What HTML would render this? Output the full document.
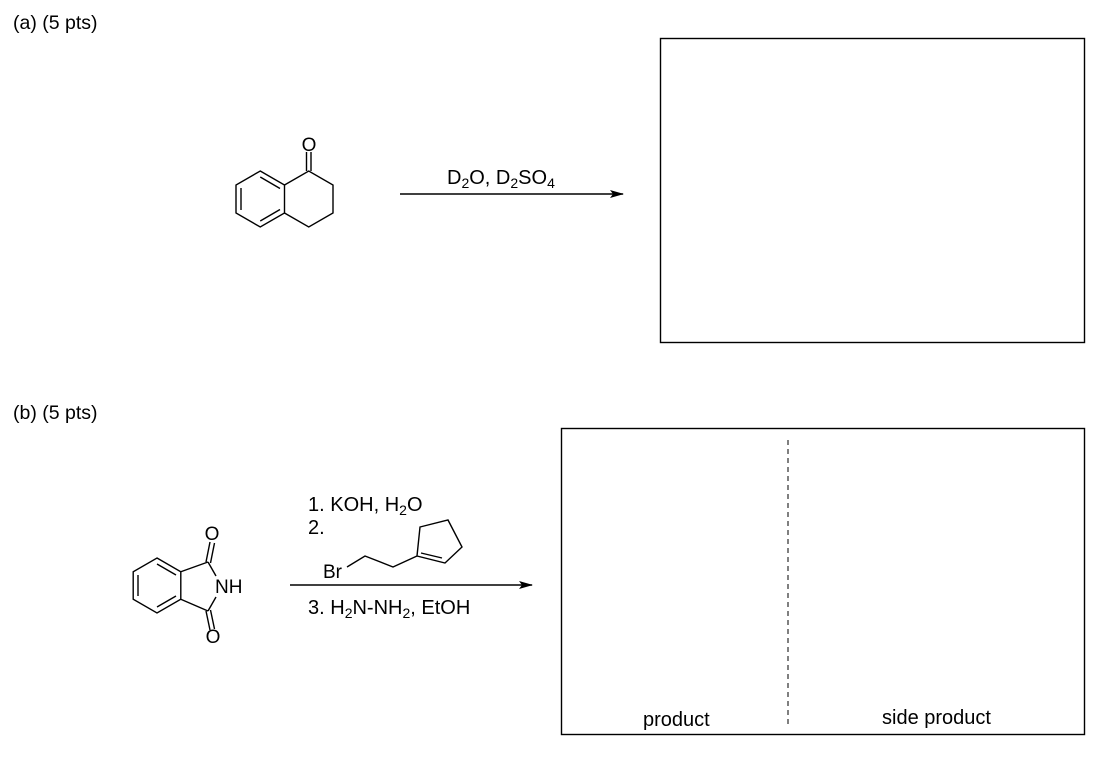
<!DOCTYPE html>
<html><head><meta charset="utf-8"><style>
html,body{margin:0;padding:0;background:#fff;}
svg{display:block;font-family:"Liberation Sans",Arial,sans-serif;}
</style></head><body>
<svg width="1118" height="774" viewBox="0 0 1118 774" xmlns="http://www.w3.org/2000/svg">
<defs><marker id="ah" markerWidth="14" markerHeight="8" refX="13" refY="4" orient="auto" markerUnits="userSpaceOnUse"><path d="M0,0 L14,4 L0,8 L3,4 Z" fill="#000"/></marker></defs>
<text x="13" y="29" font-size="19.5">(a) (5 pts)</text>
<text x="13" y="419" font-size="19.5">(b) (5 pts)</text>
<g stroke="#000" stroke-width="1.4" fill="none">
<!-- tetralone -->
<polygon points="260.25,171 284.5,185 284.5,213 260.25,227 236,213 236,185"/>
<line x1="260.25" y1="177" x2="280" y2="188.5"/>
<line x1="280" y1="209.5" x2="260.25" y2="221"/>
<line x1="241" y1="188" x2="241" y2="210"/>
<polyline points="284.5,185 308.75,171 333,185 333,213 308.75,227 284.5,213"/>
<line x1="306.5" y1="171" x2="306.5" y2="152"/>
<line x1="311" y1="171" x2="311" y2="152"/>
<!-- arrow a -->
<line x1="400" y1="194" x2="623" y2="194" marker-end="url(#ah)"/>
<rect x="660.5" y="38.5" width="424" height="304"/>
<!-- phthalimide -->
<polygon points="157,558 180.8,571.75 180.8,599.25 157,613 133.2,599.25 133.2,571.75"/>
<line x1="157" y1="564" x2="176" y2="575"/>
<line x1="176" y1="596" x2="157" y2="607"/>
<line x1="138" y1="575" x2="138" y2="596"/>
<line x1="180.8" y1="571.75" x2="208" y2="562"/>
<line x1="180.8" y1="599.25" x2="208" y2="611"/>
<line x1="208" y1="562" x2="216" y2="576"/>
<line x1="208" y1="611" x2="216" y2="597"/>
<line x1="206" y1="562" x2="210" y2="542"/>
<line x1="210.5" y1="563" x2="214.5" y2="543"/>
<line x1="206" y1="611" x2="210" y2="630"/>
<line x1="210.5" y1="610" x2="214.5" y2="629"/>
<!-- arrow b -->
<line x1="290" y1="585" x2="532" y2="585" marker-end="url(#ah)"/>
<!-- bromide -->
<polyline points="347,567 365,556 393,567 417,556"/>
<polygon points="417,556 420,527 448,520 462,547 445,563"/>
<line x1="421" y1="553" x2="442" y2="558"/>
<rect x="561.5" y="428.5" width="523" height="306"/>
<line x1="788" y1="440" x2="788" y2="726" stroke-dasharray="5,4" stroke-width="1"/>
</g>
<text x="309" y="151" font-size="19" text-anchor="middle">O</text>
<text x="212" y="540" font-size="19" text-anchor="middle">O</text>
<text x="213" y="643" font-size="19" text-anchor="middle">O</text>
<text x="215" y="593" font-size="19">NH</text>
<text x="447" y="184" font-size="20">D<tspan font-size="14" dy="4">2</tspan><tspan dy="-4">O, D</tspan><tspan font-size="14" dy="4">2</tspan><tspan dy="-4">SO</tspan><tspan font-size="14" dy="4">4</tspan></text>
<text x="308" y="511" font-size="20">1. KOH, H<tspan font-size="14" dy="4">2</tspan><tspan dy="-4">O</tspan></text>
<text x="308" y="534" font-size="20">2.</text>
<text x="323" y="578" font-size="19">Br</text>
<text x="308" y="614" font-size="20">3. H<tspan font-size="14" dy="4">2</tspan><tspan dy="-4">N-NH</tspan><tspan font-size="14" dy="4">2</tspan><tspan dy="-4">, EtOH</tspan></text>
<text x="643" y="726" font-size="20">product</text>
<text x="882" y="724" font-size="20">side product</text>
</svg>
</body></html>
